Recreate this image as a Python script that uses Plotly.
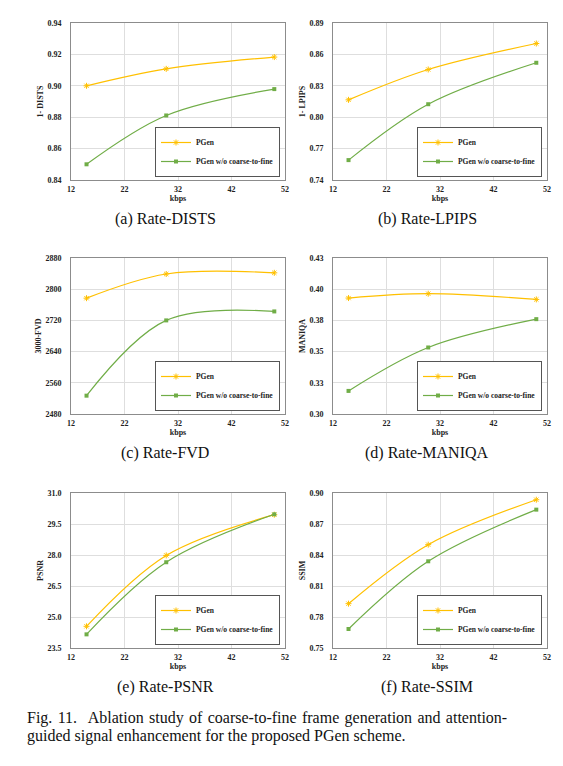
import plotly.graph_objects as go

# bitrate points (kbps)
kbps = [14.9, 29.8, 50.0]

# metric values
dists_pgen = [0.900, 0.9108, 0.9183]
dists_ctf = [0.850, 0.8811, 0.8979]
lpips_pgen = [0.8166, 0.8456, 0.8704]
lpips_ctf = [0.759, 0.8124, 0.852]
fvd_pgen = [2777, 2839, 2842]
fvd_ctf = [2527, 2720, 2743]
maniqa_pgen = [0.3929, 0.3964, 0.3918]
maniqa_ctf = [0.3185, 0.3533, 0.376]
psnr_pgen = [24.55, 27.98, 29.95]
psnr_ctf = [24.16, 27.65, 29.97]
ssim_pgen = [0.7929, 0.850, 0.8935]
ssim_ctf = [0.7684, 0.8339, 0.8839]

# axis ticks
x_ticks = [12, 22, 32, 42, 52]
dists_ticks = [0.84, 0.86, 0.88, 0.90, 0.92, 0.94]
dists_labels = ["0.84", "0.86", "0.88", "0.90", "0.92", "0.94"]
lpips_ticks = [0.74, 0.77, 0.80, 0.83, 0.86, 0.89]
lpips_labels = ["0.74", "0.77", "0.80", "0.83", "0.86", "0.89"]
fvd_ticks = [2480, 2560, 2640, 2720, 2800, 2880]
fvd_labels = ["2480", "2560", "2640", "2720", "2800", "2880"]
maniqa_ticks = [0.300, 0.325, 0.350, 0.375, 0.400, 0.425]
maniqa_labels = ["0.30", "0.33", "0.35", "0.38", "0.40", "0.43"]
psnr_ticks = [23.5, 25.0, 26.5, 28.0, 29.5, 31.0]
psnr_labels = ["23.5", "25.0", "26.5", "28.0", "29.5", "31.0"]
ssim_ticks = [0.75, 0.78, 0.81, 0.84, 0.87, 0.90]
ssim_labels = ["0.75", "0.78", "0.81", "0.84", "0.87", "0.90"]

series_names = ["PGen", "PGen w/o coarse-to-fine"]
y_titles = ["1- DISTS", "1- LPIPS", "3000-FVD", "MANIQA", "PSNR", "SSIM"]
captions = ["(a) Rate-DISTS", "(b) Rate-LPIPS", "(c) Rate-FVD",
            "(d) Rate-MANIQA", "(e) Rate-PSNR", "(f) Rate-SSIM"]
fig_caption = ["Fig. 11.  Ablation study of coarse-to-fine frame generation and attention-",
               "guided signal enhancement for the proposed PGen scheme."]

panels = [
    (dists_pgen, dists_ctf, dists_ticks, dists_labels),
    (lpips_pgen, lpips_ctf, lpips_ticks, lpips_labels),
    (fvd_pgen, fvd_ctf, fvd_ticks, fvd_labels),
    (maniqa_pgen, maniqa_ctf, maniqa_ticks, maniqa_labels),
    (psnr_pgen, psnr_ctf, psnr_ticks, psnr_labels),
    (ssim_pgen, ssim_ctf, ssim_ticks, ssim_labels),
]

# the page body has an 8px margin, so the figure is drawn 8px in
OFF = 8
W, H = 563 - OFF, 766 - OFF
YELLOW = "#FFC000"
GREEN = "#70AD47"
SERIF = "Liberation Serif"

# plot-area boxes in window pixels (left, right), (top, bottom)
cols = [(71, 285), (333, 547)]
rows = [(23, 180), (258, 414), (493, 648)]


def px_x(v):
    return (v - OFF) / W


def px_y(v):
    return 1 - (v - OFF) / H


fig = go.Figure()
layout = {}
annotations = []
bold8 = dict(family=SERIF, size=8, color="#222", weight="bold")

for i, (pgen, ctf, yt, yl) in enumerate(panels):
    r, c = divmod(i, 2)
    (x0, x1), (y0, y1) = cols[c], rows[r]
    n = i + 1
    xa = "x" if n == 1 else f"x{n}"
    ya = "y" if n == 1 else f"y{n}"
    lg = "legend" if n == 1 else f"legend{n}"

    fig.add_trace(go.Scatter(
        x=kbps, y=pgen, name=series_names[0], mode="lines+markers",
        line=dict(color=YELLOW, width=1.2, shape="spline", smoothing=1.0),
        marker=dict(symbol="asterisk-open", size=5, color=YELLOW, line=dict(color=YELLOW, width=1)),
        xaxis=xa, yaxis=ya, legend=lg,
    ))
    fig.add_trace(go.Scatter(
        x=kbps, y=ctf, name=series_names[1], mode="lines+markers",
        line=dict(color=GREEN, width=1.2, shape="spline", smoothing=1.0),
        marker=dict(symbol="square", size=4, color=GREEN),
        xaxis=xa, yaxis=ya, legend=lg,
    ))

    axis_common = dict(
        showline=True, mirror=True, linecolor="#8c8c8c", linewidth=1,
        showgrid=True, gridcolor="#dedede", gridwidth=1, zeroline=False,
        ticks="", tickfont=bold8, automargin=False,
    )
    layout["xaxis" if n == 1 else f"xaxis{n}"] = dict(
        axis_common, domain=[px_x(x0), px_x(x1)], anchor=ya,
        range=[12, 52], tickvals=x_ticks, ticklabelstandoff=1,
        title=dict(text="kbps", font=bold8, standoff=0),
    )
    layout["yaxis" if n == 1 else f"yaxis{n}"] = dict(
        axis_common, domain=[px_y(y1), px_y(y0)], anchor=xa,
        range=[yt[0], yt[-1]], tickvals=yt, ticktext=yl, ticklabelstandoff=7,
        title=dict(text=y_titles[i], font=bold8, standoff=2),
    )
    layout[lg] = dict(
        x=px_x(x1 - 5), y=px_y(y1 - 3), xanchor="right", yanchor="bottom",
        bgcolor="white", bordercolor="#555", borderwidth=1,
        font=dict(family=SERIF, size=7.5, color="#222", weight="bold"),
        tracegroupgap=0, itemwidth=30,
    )

    annotations.append(dict(
        text=captions[i], x=px_x((x0 + x1) / 2 - 13), y=px_y(y1 + 39),
        xref="paper", yref="paper", xanchor="center", yanchor="middle",
        showarrow=False, font=dict(family=SERIF, size=16, color="#111"),
    ))

# first caption line is justified in the paper: pad word gaps with hair spaces
caption_lines = [fig_caption[0].replace(" ", " \u200a"), fig_caption[1]]
for k, line in enumerate(caption_lines):
    annotations.append(dict(
        text=line, x=px_x(25), y=px_y(718 + 18 * k), xref="paper", yref="paper",
        xanchor="left", yanchor="middle", showarrow=False,
        font=dict(family=SERIF, size=16, color="#111"),
    ))

fig.update_layout(
    width=W, height=H,
    margin=dict(l=0, r=0, t=0, b=0),
    paper_bgcolor="white", plot_bgcolor="white",
    annotations=annotations,
    **layout,
)

fig.write_html("out.html")
